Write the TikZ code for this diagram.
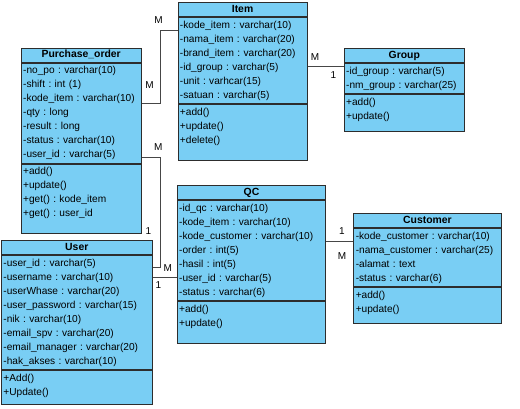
\documentclass[tikz,border=0pt]{standalone}
\usepackage{fontspec}
\setmainfont{Liberation Sans}
\usetikzlibrary{positioning}
\usetikzlibrary{calc}
\frenchspacing

\definecolor{classblue}{RGB}{121,206,244}
\definecolor{classline}{RGB}{45,45,45}
\definecolor{linkgray}{RGB}{70,70,70}

\newcommand{\members}[1]{\begin{tabular}{@{}l@{}}#1\end{tabular}}

\tikzset{
  classhead/.style={draw=classline, fill=classblue, line width=.7pt, inner xsep=1.5pt, inner ysep=0pt,
    anchor=north west, align=center, font=\fontsize{7.8}{10.5}\selectfont\bfseries},
  classpart/.style={draw=classline, fill=classblue, line width=.7pt, inner xsep=1.5pt, inner ysep=.75pt,
    align=left, font=\fontsize{7.6}{10.5}\selectfont},
  link/.style={draw=linkgray, line width=.6pt},
  mult/.style={inner sep=0pt, font=\fontsize{7.5}{9}\selectfont}
}

\begin{document}
\begin{tikzpicture}[x=.75pt,y=-.75pt]
\useasboundingbox (0,0) rectangle (520,408);

% Purchase_order
\node[classhead, text width=87pt] (po) at (20.7,47.7) {\members{Purchase\_order}};
\node[classpart, text width=87pt, below=0pt of po] (poattr) {\members{-no\_po : varchar(10)\\-shift : int (1)\\-kode\_item : varchar(10)\\-qty : long\\-result : long\\-status : varchar(10)\\-user\_id : varchar(5)}};
\node[classpart, text width=87pt, below=0pt of poattr] (poops) {\members{+add()\\+update()\\+get() : kode\_item\\+get() : user\_id\\[8.3pt]}};

% Item
\node[classhead, text width=93.9pt] (it) at (177.5,2.3) {\members{Item}};
\node[classpart, text width=93.9pt, below=0pt of it] (itattr) {\members{-kode\_item : varchar(10)\\-nama\_item : varchar(20)\\-brand\_item : varchar(20)\\-id\_group : varchar(5)\\-unit : varhcar(15)\\-satuan : varchar(5)}};
\node[classpart, text width=93.9pt, below=0pt of itattr] (itops) {\members{+add()\\+update()\\+delete()\\[8.7pt]}};

% Group
\node[classhead, text width=87.2pt] (gr) at (343.7,48.3) {\members{Group}};
\node[classpart, text width=87.2pt, below=0pt of gr] (grattr) {\members{-id\_group : varchar(5)\\-nm\_group : varchar(25)}};
\node[classpart, text width=87.2pt, below=0pt of grattr] (grops) {\members{+add()\\+update()\\[4.8pt]}};

% User
\node[classhead, text width=110pt] (us) at (1,240) {\members{User}};
\node[classpart, text width=110pt, below=0pt of us] (usattr) {\members{-user\_id : varchar(5)\\-username : varchar(10)\\-userWhase : varchar(20)\\-user\_password : varchar(15)\\-nik : varchar(10)\\-email\_spv : varchar(20)\\-email\_manager : varchar(20)\\-hak\_akses : varchar(10)}};
\node[classpart, text width=110pt, below=0pt of usattr] (usops) {\members{+Add()\\+Update()\\[3pt]}};

% QC
\node[classhead, text width=108.5pt] (qc) at (176.7,185) {\members{QC}};
\node[classpart, text width=108.5pt, below=0pt of qc] (qcattr) {\members{-id\_qc : varchar(10)\\-kode\_item : varchar(10)\\-kode\_customer : varchar(10)\\-order : int(5)\\-hasil : int(5)\\-user\_id : varchar(5)\\-status : varchar(6)}};
\node[classpart, text width=108.5pt, below=0pt of qcattr] (qcops) {\members{+add()\\+update()\\[8.8pt]}};

% Customer
\node[classhead, text width=107.5pt] (cu) at (353.3,213.3) {\members{Customer}};
\node[classpart, text width=107.5pt, below=0pt of cu] (cuattr) {\members{-kode\_customer : varchar(10)\\-nama\_customer : varchar(25)\\-alamat : text\\-status : varchar(6)}};
\node[classpart, text width=107.5pt, below=0pt of cuattr] (cuops) {\members{+add()\\+update()\\[4pt]}};

% relations
\draw[link] ($(poattr.north east)+(0,41)$) -- ++(19,0) |- ($(itattr.north west)+(0,13)$);
\draw[link] ($(itattr.north east)+(0,49.4)$) coordinate (itgr) -- (itgr -| grattr.west);
\draw[link] ($(poattr.north east)+(0,95)$) -- ++(19,0) |- ($(usattr.north east)+(0,12.7)$);
\draw[link] ($(usattr.north east)+(0,22.7)$) coordinate (usqc) -- (usqc -| qcattr.west);
\draw[link] ($(qcattr.north east)+(0,41)$) coordinate (qccu) -- (qccu -| cuattr.west);

% multiplicities
\node[mult] (poitm1) at (158.5,20.5) {M};
\node[mult] (poitm2) at (149.5,85) {M};
\node[mult] (itgrm) at (315,57.3) {M};
\node[mult] (itgr1) at (333.3,75) {1};
\node[mult] (pousm) at (158.3,147) {M};
\node[mult] (pous1) at (148.3,231) {1};
\node[mult] (usqcm) at (167.7,267.7) {M};
\node[mult] (usqc1) at (158.3,285) {1};
\node[mult] (qccu1) at (342,231) {1};
\node[mult] (qccum) at (342,256.5) {M};
\end{tikzpicture}
\end{document}
